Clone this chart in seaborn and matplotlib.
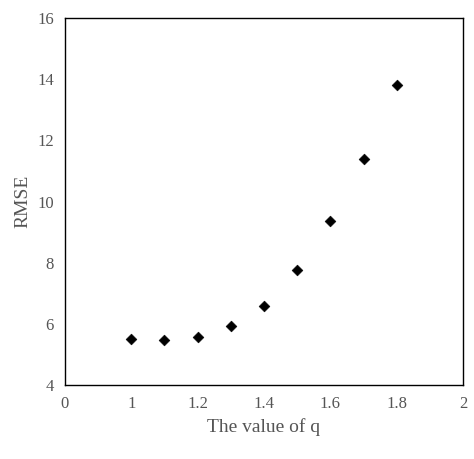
import matplotlib
matplotlib.use("Agg")
import matplotlib.pyplot as plt
import seaborn as sns
import pandas as pd

q = [1.0, 1.1, 1.2, 1.3, 1.4, 1.5, 1.6, 1.7, 1.8]
rmse = [5.5, 5.47, 5.57, 5.93, 6.6, 7.75, 9.35, 11.4, 13.8]
xtick_pos = [0.8, 1.0, 1.2, 1.4, 1.6, 1.8, 2.0]
xtick_labels = ["0", "1", "1.2", "1.4", "1.6", "1.8", "2"]
yticks = [4, 6, 8, 10, 12, 14, 16]

sns.set_style("white")
plt.rcParams["font.family"] = ["Liberation Serif", "DejaVu Serif"]

fig, ax = plt.subplots(figsize=(4.74, 4.59), dpi=100)
df = pd.DataFrame({"q": q, "RMSE": rmse})
sns.scatterplot(data=df, x="q", y="RMSE", marker="D", color="black", s=30, ax=ax, edgecolor="black")
ax.set_xlim(0.8, 2.0)
ax.set_ylim(4, 16)
ax.set_xticks(xtick_pos)
ax.set_xticklabels(xtick_labels)
ax.set_yticks(yticks)
ax.tick_params(colors="#555555", labelsize=12, length=0, pad=8)
for s in ax.spines.values():
    s.set_color("black")
    s.set_linewidth(1.0)
ax.set_xlabel("The value of q", fontsize=14, color="#555555")
ax.set_ylabel("RMSE", fontsize=14, color="#555555")
fig.subplots_adjust(left=0.137, right=0.977, top=0.961, bottom=0.161)
fig.savefig("out.png", dpi=100)
